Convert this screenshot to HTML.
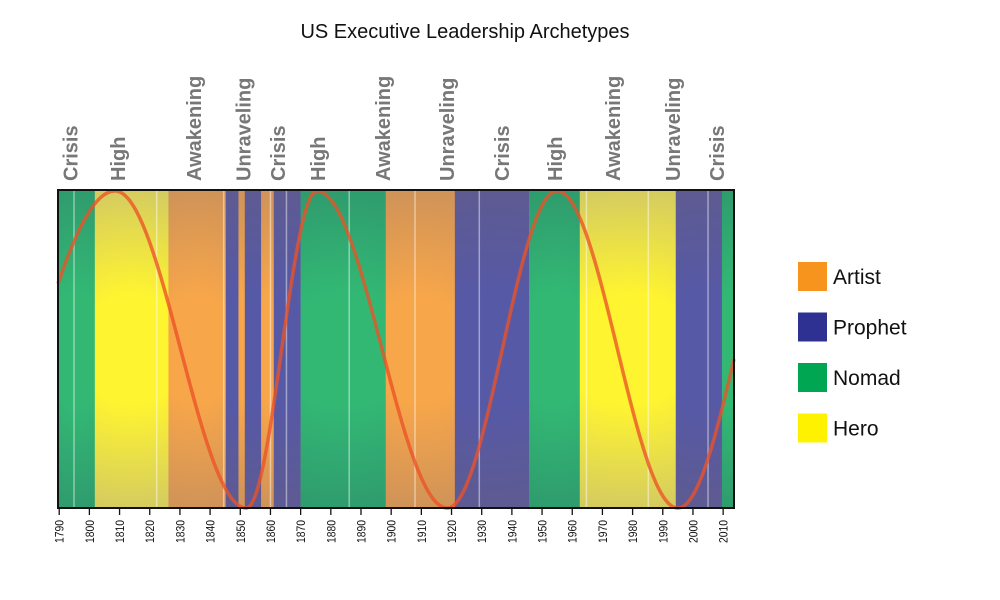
<!DOCTYPE html>
<html><head><meta charset="utf-8"><style>
html,body{margin:0;padding:0;background:#fff;}
svg{display:block;font-family:"Liberation Sans",sans-serif;}
</style></head><body>
<svg id="chart" width="1000" height="600" viewBox="0 0 1000 600">
<defs>
<radialGradient id="g-Hero" cx="0.5" cy="0.5" r="0.5" gradientUnits="objectBoundingBox" gradientTransform="translate(0.5 0.5) scale(4 1) translate(-0.5 -0.5)">
<stop offset="0.35" stop-color="#fff430"/><stop offset="1" stop-color="#d5cc60"/></radialGradient>
<radialGradient id="g-Nomad" cx="0.5" cy="0.5" r="0.5" gradientTransform="translate(0.5 0.5) scale(4 1) translate(-0.5 -0.5)">
<stop offset="0.35" stop-color="#33b874"/><stop offset="1" stop-color="#2f9c6e"/></radialGradient>
<radialGradient id="g-Artist" cx="0.5" cy="0.5" r="0.5" gradientTransform="translate(0.5 0.5) scale(4 1) translate(-0.5 -0.5)">
<stop offset="0.35" stop-color="#f7a64a"/><stop offset="1" stop-color="#d09358"/></radialGradient>
<radialGradient id="g-Prophet" cx="0.5" cy="0.5" r="0.5" gradientTransform="translate(0.5 0.5) scale(4 1) translate(-0.5 -0.5)">
<stop offset="0.35" stop-color="#5659a6"/><stop offset="1" stop-color="#5e5a92"/></radialGradient>
</defs>
<text x="465" y="38" font-size="20" text-anchor="middle" fill="#111">US Executive Leadership Archetypes</text>
<g id="bands"></g>
<g id="lines"></g>
<path id="curve" fill="none" stroke="#ec5226" stroke-opacity="0.78" stroke-width="3.5"/>
<rect x="58" y="190" width="676" height="318" fill="none" stroke="#111" stroke-width="2"/>
<g id="xaxis"></g>
<g id="turnings"></g>
<g id="legend"></g>
</svg>
<script>
const bandStarts = [1789.6, 1801.8, 1826.2, 1845.2, 1849.4, 1851.5, 1856.9, 1861.1, 1870, 1898.2, 1921.1, 1945.7, 1962.5, 1994.3, 2009.6];
const bandEnds   = [1801.8, 1826.2, 1845.2, 1849.4, 1851.5, 1856.9, 1861.1, 1870, 1898.2, 1921.1, 1945.7, 1962.5, 1994.3, 2009.6, 2013.6];
const bandTypes  = ["Nomad","Hero","Artist","Prophet","Artist","Prophet","Artist","Prophet","Nomad","Artist","Prophet","Nomad","Hero","Prophet","Nomad"];
const dividerYears = [1794.9, 1822.3, 1844.5, 1860, 1865.3, 1886.1, 1907.9, 1929.2, 1964.7, 1985.2, 2005];
const curveYears  = [1756.5, 1808.5, 1852, 1875.4, 1918.6, 1955, 1995, 2033.7];
const curveValues = [0, 1, 0, 1, 0, 1, 0, 1];
const tickYears = [1790,1800,1810,1820,1830,1840,1850,1860,1870,1880,1890,1900,1910,1920,1930,1940,1950,1960,1970,1980,1990,2000,2010];
const turningLabels = ["Crisis","High","Awakening","Unraveling","Crisis","High","Awakening","Unraveling","Crisis","High","Awakening","Unraveling","Crisis"];
const turningYears = [1793.7, 1809.5, 1834.7, 1851, 1862.5, 1875.8, 1897.3, 1918.5, 1936.7, 1954.3, 1973.5, 1993.4, 2007.9];
const legendLabels = ["Artist","Prophet","Nomad","Hero"];
const legendColors = ["#f7941d","#2e3192","#00a651","#fff200"];

const NS="http://www.w3.org/2000/svg";
const X0=58, X1=734, Y0=191, Y1=508, YR0=1789.6, YR1=2013.6;
const xs = y => X0 + (y-YR0)/(YR1-YR0)*(X1-X0);
const ys = v => Y1 - v*(Y1-Y0);
function mk(tag, parent){const e=document.createElementNS(NS,tag);document.getElementById(parent).appendChild(e);return e;}

bandStarts.forEach((s,i)=>{
  const r=mk('rect','bands');
  
  
  r.setAttribute('x',xs(s));r.setAttribute('width',xs(bandEnds[i])-xs(s)+0.3);
  r.setAttribute('y',Y0);r.setAttribute('height',Y1-Y0);
  r.setAttribute('fill','url(#g-'+bandTypes[i]+')');
});
dividerYears.forEach(d=>{
  const l=mk('line','lines');
  
  
  l.setAttribute('x1',xs(d));l.setAttribute('x2',xs(d));l.setAttribute('y1',Y0);l.setAttribute('y2',Y1);
  l.setAttribute('stroke','#ffffff');l.setAttribute('stroke-opacity','0.45');l.setAttribute('stroke-width','1.5');
});
function curveAt(yr){
  for(let i=0;i<curveYears.length-1;i++){
    if(yr>=curveYears[i]&&yr<=curveYears[i+1]){
      const t=(yr-curveYears[i])/(curveYears[i+1]-curveYears[i]);
      const w=(1-Math.cos(Math.PI*t))/2;
      return curveValues[i]+(curveValues[i+1]-curveValues[i])*w;
    }
  }
  return 0;
}
let d='';
for(let yr=YR0;yr<=YR1+0.001;yr+=0.25){d+=(d?'L':'M')+xs(yr).toFixed(2)+','+ys(curveAt(yr)).toFixed(2);}
document.getElementById('curve').setAttribute('d',d);

tickYears.forEach(t=>{
  const l=mk('line','xaxis');
  
  
  l.setAttribute('x1',xs(t));l.setAttribute('x2',xs(t));l.setAttribute('y1',Y1);l.setAttribute('y2',Y1+7);
  l.setAttribute('stroke','#111');l.setAttribute('stroke-width','1.3');
  const tx=mk('text','xaxis');
  
  
  tx.setAttribute('transform','translate('+(xs(t)+4.5)+','+(Y1+12)+') rotate(-90)');
  tx.setAttribute('text-anchor','end');tx.setAttribute('font-size','12');tx.setAttribute('fill','#111');
  tx.setAttribute('textLength','23');tx.setAttribute('lengthAdjust','spacingAndGlyphs');
  tx.textContent=t;
});
turningLabels.forEach((lab,i)=>{
  const tx=mk('text','turnings');
  
  
  tx.setAttribute('transform','translate('+(xs(turningYears[i])+7)+',181) rotate(-90)');
  tx.setAttribute('font-size','20');tx.setAttribute('font-weight','bold');tx.setAttribute('fill','#777');
  tx.textContent=lab;
});
legendLabels.forEach((lab,i)=>{
  const y=262+i*50.5;
  const r=mk('rect','legend');
  
  
  r.setAttribute('x',798);r.setAttribute('y',y);r.setAttribute('width',29);r.setAttribute('height',29);
  r.setAttribute('fill',legendColors[i]);
  const tx=mk('text','legend');
  
  
  tx.setAttribute('x',833);tx.setAttribute('y',y+22);tx.setAttribute('font-size','21');tx.setAttribute('fill','#111');
  tx.textContent=lab;
});
</script>
</body></html>
